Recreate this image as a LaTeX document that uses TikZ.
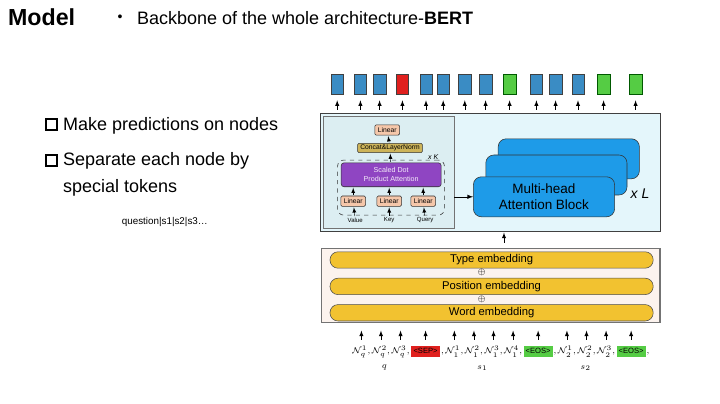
\documentclass[tikz,border=0pt]{standalone}
\usepackage[no-math]{fontspec}
\setmainfont{Liberation Sans}
\usetikzlibrary{positioning}
\definecolor{outblue}{HTML}{3A8CC4}
\definecolor{outred}{HTML}{E0201E}
\definecolor{outgreen}{HTML}{55CC44}
\definecolor{encfill}{HTML}{E4F6FB}
\definecolor{attnfill}{HTML}{DCEEF2}
\definecolor{mhafill}{HTML}{1E9BE8}
\definecolor{embfill}{HTML}{FCF3EE}
\definecolor{pillfill}{HTML}{F2C230}
\definecolor{linfill}{HTML}{F5C7AA}
\definecolor{catfill}{HTML}{CDB45A}
\definecolor{sdpfill}{HTML}{8F45C2}
\begin{document}
\begin{tikzpicture}[->,>=latex]
 	\useasboundingbox (0,0) rectangle (18cm,10.1cm);
 	\def \toprow{8cm}
 	\def \headrow{9.65cm}
 	\def \tokbase{1.25cm}
 	\def \subrow{0.9cm}

 	\tikzstyle{o-box}=[rectangle,draw=black!75,thin,minimum width=0.31cm,minimum height=0.5cm,inner sep=0pt]
 	\tikzstyle{o-blue}=[o-box,fill=outblue]
 	\tikzstyle{o-red}=[o-box,fill=outred]
 	\tikzstyle{o-green}=[o-box,fill=outgreen,draw=green!35!black]
 	\tikzstyle{enc-box}=[rectangle,draw=black!75,fill=encfill,semithick,minimum width=8.5cm,minimum height=2.95cm]
 	\tikzstyle{attn-box}=[rectangle,draw=black!55,fill=attnfill,minimum width=3.27cm,minimum height=2.8cm]
 	\tikzstyle{mha}=[rectangle,rounded corners=0.2cm,draw=black!80,fill=mhafill,minimum width=3.53cm,minimum height=1cm,align=center,font=\fontsize{9.6}{11.5}\selectfont]
 	\tikzstyle{emb-box}=[rectangle,draw=black!55,fill=embfill,thick,minimum width=8.46cm,minimum height=1.86cm]
 	\tikzstyle{pill}=[rectangle,rounded corners=0.2cm,draw=black!70,fill=pillfill,minimum width=8.08cm,minimum height=0.41cm,inner sep=0pt,font=\fontsize{8}{9}\selectfont]
 	\tikzstyle{lin}=[rectangle,rounded corners=1pt,draw=black!80,fill=linfill,minimum width=0.62cm,minimum height=0.26cm,inner sep=0pt,font=\fontsize{4.8}{5}\selectfont]
 	\tikzstyle{tiny}=[inner sep=0.5pt,font=\fontsize{4.3}{5}\selectfont]
 	\tikzstyle{tok}=[inner sep=0.2pt,font=\fontsize{6.3}{7.5}\selectfont]
 	\tikzstyle{spec}=[rectangle,minimum width=0.72cm,minimum height=0.27cm,inner sep=0pt,font=\fontsize{5.4}{6}\selectfont]
 	\tikzstyle{chk}=[rectangle,draw=black,line width=1.3pt,minimum size=0.29cm,inner sep=0pt]
 	\tikzstyle{txt}=[inner sep=0pt,font=\fontsize{12.8}{19.2}\selectfont]
 	\tikzstyle{small-arr}=[line width=0.3pt,shorten <=0.5pt,shorten >=0.5pt]

 	% slide text
 	\node[txt,font=\fontsize{16.5}{18}\selectfont\bfseries] (model) at (1.04cm,9.675cm) {Model};
 	\node[txt,font=\fontsize{10}{12}\selectfont] (dot) at (3.0cm,\headrow) {•};
 	\node[txt,anchor=west] (backbone) at (3.42cm,\headrow) {Backbone of the whole architecture-\textbf{BERT}};
 	\node[chk] (chk1) at (1.29cm,6.99cm) {};
 	\node[txt,anchor=west] (pred) at (1.57cm,6.96cm) {Make predictions on nodes};
 	\node[chk] (chk2) at (1.29cm,6.09cm) {};
 	\node[txt,anchor=west,align=left] (sepa) at (1.57cm,5.75cm) {Separate each node by\\special tokens};
 	\node[inner sep=0pt,font=\fontsize{7}{8}\selectfont] (seq) at (4.12cm,4.55cm) {question|s1|s2|s3…};

 	% outputs
 	\node[o-blue] 	(o1)	at (8.43cm,\toprow)	{};
 	\node[o-blue] 	(o2)	at (9.01cm,\toprow)	{};
 	\node[o-blue] 	(o3)	at (9.49cm,\toprow)	{};
 	\node[o-red] 	(o4)	at (10.06cm,\toprow)	{};
 	\node[o-blue] 	(o5)	at (10.65cm,\toprow)	{};
 	\node[o-blue] 	(o6)	at (11.08cm,\toprow)	{};
 	\node[o-blue] 	(o7)	at (11.62cm,\toprow)	{};
 	\node[o-blue] 	(o8)	at (12.14cm,\toprow)	{};
 	\node[o-green] 	(o9)	at (12.74cm,\toprow)	{};
 	\node[o-blue] 	(o10)	at (13.41cm,\toprow)	{};
 	\node[o-blue] 	(o11)	at (13.89cm,\toprow)	{};
 	\node[o-blue] 	(o12)	at (14.45cm,\toprow)	{};
 	\node[o-green] 	(o13)	at (15.09cm,\toprow)	{};
 	\node[o-green] 	(o14)	at (15.89cm,\toprow)	{};

 	% encoder
 	\node[enc-box] 	(enc)	at (12.25cm,5.8cm)	{};
 	\node[attn-box] (attn)	at (9.715cm,5.79cm)	{};
 	\node[rectangle,rounded corners=0.15cm,draw=black!80,dashed,thin,minimum width=2.67cm,minimum height=1.375cm] (kbox) at (9.775cm,5.41cm) {};
 	\node[lin] 	(lin-out)	at (9.68cm,6.85cm)	{Linear};
 	\node[lin,fill=catfill,minimum width=1.62cm,minimum height=0.235cm] (concat) at (9.75cm,6.4cm) {Concat\&LayerNorm};
 	\node[tiny,font=\fontsize{5}{6}\selectfont\itshape] (xk) at (10.83cm,6.17cm) {x K};
 	\node[rectangle,rounded corners=2pt,draw=black!80,fill=sdpfill,text=white!90!sdpfill,minimum width=2.5cm,minimum height=0.57cm,align=center,font=\fontsize{5.1}{6.6}\selectfont] (sdp) at (9.78cm,5.73cm) {Scaled Dot\\Product Attention};
 	\node[lin] 	(lin-v)	at (8.83cm,5.07cm)	{Linear};
 	\node[lin] 	(lin-k)	at (9.73cm,5.07cm)	{Linear};
 	\node[lin] 	(lin-q)	at (10.58cm,5.07cm)	{Linear};
 	\node[tiny] 	(value)	at (8.88cm,4.6cm)	{Value};
 	\node[tiny] 	(key)	at (9.73cm,4.6cm)	{Key};
 	\node[tiny] 	(query)	at (10.63cm,4.6cm)	{Query};

 	\node[mha] 	(mha3)	at (14.22cm,6.13cm)	{};
 	\node[mha] 	(mha2)	at (13.91cm,5.725cm)	{};
 	\node[mha] 	(mha1)	at (13.6cm,5.18cm)	{Multi-head\\Attention Block};
 	\node[font=\fontsize{10}{12}\selectfont\itshape] (xl) at (16.0cm,5.25cm) {x L};

 	% embeddings
 	\node[emb-box] 	(emb)	at (12.27cm,2.96cm)	{};
 	\node[pill] 	(type)	at (12.29cm,3.6cm)	{Type embedding};
 	\node[inner sep=0pt,font=\fontsize{6}{7}\selectfont] (plus1) at (12.04cm,3.28cm) {$\oplus$};
 	\node[pill] 	(pos)	at (12.29cm,2.94cm)	{Position embedding};
 	\node[inner sep=0pt,font=\fontsize{6}{7}\selectfont] (plus2) at (12.04cm,2.62cm) {$\oplus$};
 	\node[pill] 	(word)	at (12.29cm,2.28cm)	{Word embedding};

 	% input tokens
 	\node[tok,anchor=base west] 	(t1)	at (8.79cm,\tokbase)	{$\mathcal{N}_q^1,$};
 	\node[tok,base right=0pt of t1] 	(t2)	{$\mathcal{N}_q^2,$};
 	\node[tok,base right=0pt of t2] 	(t3)	{$\mathcal{N}_q^3,$};
 	\node[spec,fill=outred,base right=0.4pt of t3] 	(t4)	{<SEP>};
 	\node[tok,base right=0pt of t4] 	(c4)	{$,$};
 	\node[tok,base right=0pt of c4] 	(t5)	{$\mathcal{N}_1^1,$};
 	\node[tok,base right=0pt of t5] 	(t6)	{$\mathcal{N}_1^2,$};
 	\node[tok,base right=0pt of t6] 	(t7)	{$\mathcal{N}_1^3,$};
 	\node[tok,base right=0pt of t7] 	(t8)	{$\mathcal{N}_1^4,$};
 	\node[spec,fill=outgreen,base right=0.4pt of t8] 	(t9)	{<EOS>};
 	\node[tok,base right=0pt of t9] 	(c9)	{$,$};
 	\node[tok,base right=0pt of c9] 	(t10)	{$\mathcal{N}_2^1,$};
 	\node[tok,base right=0pt of t10] 	(t11)	{$\mathcal{N}_2^2,$};
 	\node[tok,base right=0pt of t11] 	(t12)	{$\mathcal{N}_2^3,$};
 	\node[spec,fill=outgreen,base right=0.4pt of t12] 	(t13)	{<EOS>};
 	\node[tok,base right=0pt of t13] 	(c13)	{$,$};
 	\node[tok] 	(lq)	at (9.61cm,\subrow)	{$q$};
 	\node[tok] 	(ls1)	at (12.06cm,\subrow)	{$s_1$};
 	\node[tok] 	(ls2)	at (14.64cm,\subrow)	{$s_2$};

 	\coordinate (up) at (12.6cm,0);

 	\path[shorten <=0.075cm,shorten >=0.15cm]
 		(o1 |- enc.north)	edge	(o1.south)
 		(o2 |- enc.north)	edge	(o2.south)
 		(o3 |- enc.north)	edge	(o3.south)
 		(o4 |- enc.north)	edge	(o4.south)
 		(o5 |- enc.north)	edge	(o5.south)
 		(o6 |- enc.north)	edge	(o6.south)
 		(o7 |- enc.north)	edge	(o7.south)
 		(o8 |- enc.north)	edge	(o8.south)
 		(o9 |- enc.north)	edge	(o9.south)
 		(o10 |- enc.north)	edge	(o10.south)
 		(o11 |- enc.north)	edge	(o11.south)
 		(o12 |- enc.north)	edge	(o12.south)
 		(o13 |- enc.north)	edge	(o13.south)
 		(o14 |- enc.north)	edge	(o14.south);

 	\path
 		(emb.north -| up)	edge[shorten <=0.13cm,shorten >=0.03cm]	(enc.south -| up)
 		(attn.east |- mha1.west)	edge	(mha1.west);

 	\path[small-arr]
 		(concat)	edge	(lin-out)
 		(sdp)	edge	(concat)
 		(lin-v)	edge	(lin-v |- sdp.south)
 		(lin-k)	edge	(lin-k |- sdp.south)
 		(lin-q)	edge	(lin-q |- sdp.south)
 		(value)	edge	(lin-v)
 		(key)	edge	(lin-k)
 		(query)	edge	(lin-q);

 	% arrows start at a common height above the tokens
 	\path[shorten >=0.18cm]
 		(t1 |- 0,1.6cm)	edge	(t1 |- emb.south)
 		(t2 |- 0,1.6cm)	edge	(t2 |- emb.south)
 		(t3 |- 0,1.6cm)	edge	(t3 |- emb.south)
 		(t4 |- 0,1.6cm)	edge	(t4 |- emb.south)
 		(t5 |- 0,1.6cm)	edge	(t5 |- emb.south)
 		(t6 |- 0,1.6cm)	edge	(t6 |- emb.south)
 		(t7 |- 0,1.6cm)	edge	(t7 |- emb.south)
 		(t8 |- 0,1.6cm)	edge	(t8 |- emb.south)
 		(t9 |- 0,1.6cm)	edge	(t9 |- emb.south)
 		(t10 |- 0,1.6cm)	edge	(t10 |- emb.south)
 		(t11 |- 0,1.6cm)	edge	(t11 |- emb.south)
 		(t12 |- 0,1.6cm)	edge	(t12 |- emb.south)
 		(t13 |- 0,1.6cm)	edge	(t13 |- emb.south);
\end{tikzpicture}
\end{document}
